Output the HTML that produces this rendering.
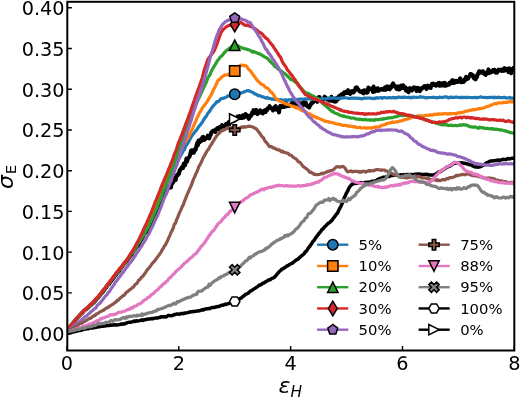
<!DOCTYPE html><html><head><meta charset="utf-8"><style>html,body{margin:0;padding:0;background:#fff;overflow:hidden}svg{display:block}</style></head><body>
<svg width="520" height="398" viewBox="0 0 520 398" font-family="'DejaVu Sans', 'Liberation Sans', sans-serif">
<rect width="520" height="398" fill="#fff"/>
<defs><clipPath id="ax"><rect x="67" y="2" width="447.5" height="348.5"/></clipPath></defs>
<g clip-path="url(#ax)" fill="none" stroke-linejoin="round" stroke-linecap="square">
<polyline points="67.0,331.2 67.6,330.1 68.3,329.1 69.0,328.1 69.7,327.2 70.3,326.3 71.0,325.5 71.7,324.6 72.3,323.9 73.0,323.1 73.7,322.3 74.4,321.5 75.0,320.6 75.7,319.8 76.4,319.0 77.0,318.2 77.7,317.6 78.4,316.9 79.0,316.2 79.7,315.3 80.4,314.8 81.1,314.0 81.7,313.2 82.4,312.9 83.1,311.9 83.7,311.1 84.4,310.6 85.1,309.8 85.8,309.6 86.4,309.0 87.1,308.2 87.8,307.9 88.4,307.0 89.1,306.7 89.8,305.7 90.5,305.4 91.1,304.7 91.8,304.4 92.5,303.7 93.1,302.8 93.8,302.4 94.5,301.6 95.2,301.0 95.8,300.2 96.5,299.2 97.2,298.3 97.8,297.9 98.5,297.2 99.2,296.1 99.9,295.2 100.5,294.7 101.2,293.7 101.9,292.9 102.5,292.1 103.2,291.4 103.9,290.5 104.5,289.4 105.2,288.8 105.9,287.7 106.6,287.0 107.2,285.9 107.9,284.9 108.6,284.4 109.2,283.9 109.9,282.6 110.6,281.8 111.3,280.8 111.9,279.9 112.6,279.1 113.3,278.1 113.9,277.5 114.6,276.2 115.3,275.4 116.0,274.8 116.6,274.0 117.3,272.9 118.0,272.2 118.6,271.5 119.3,270.5 120.0,269.2 120.7,268.6 121.3,267.8 122.0,266.8 122.7,265.7 123.3,264.9 124.0,264.0 124.7,263.4 125.4,262.6 126.0,261.9 126.7,260.9 127.4,260.1 128.0,259.0 128.7,258.1 129.4,257.3 130.0,256.2 130.7,255.3 131.4,255.0 132.1,253.6 132.7,252.0 133.4,250.9 134.1,250.0 134.7,249.4 135.4,248.6 136.1,246.9 136.8,246.7 137.4,245.3 138.1,245.7 138.8,244.0 139.4,243.4 140.1,241.6 140.8,240.5 141.5,239.3 142.1,238.2 142.8,237.1 143.5,234.3 144.1,234.0 144.8,233.1 145.5,232.1 146.2,231.0 146.8,231.8 147.5,229.3 148.2,227.5 148.8,227.1 149.5,225.3 150.2,223.8 150.8,223.1 151.5,221.9 152.2,220.7 152.9,219.4 153.5,216.8 154.2,215.0 154.9,213.5 155.5,211.8 156.2,211.0 156.9,208.7 157.6,206.2 158.2,206.5 158.9,203.7 159.6,201.8 160.2,202.8 160.9,200.7 161.6,200.7 162.3,198.1 162.9,196.8 163.6,196.1 164.3,196.0 164.9,195.1 165.6,193.7 166.3,192.4 167.0,190.0 167.6,189.2 168.3,186.1 169.0,186.9 169.6,187.9 170.3,187.0 171.0,187.4 171.7,182.1 172.3,183.5 173.0,182.6 173.7,181.2 174.3,178.4 175.0,179.1 175.7,179.9 176.3,175.4 177.0,175.8 177.7,175.4 178.4,173.3 179.0,173.9 179.7,170.1 180.4,170.1 181.0,168.5 181.7,167.6 182.4,166.7 183.1,167.9 183.7,163.5 184.4,164.0 185.1,165.2 185.7,162.6 186.4,158.6 187.1,161.5 187.8,158.7 188.4,157.9 189.1,157.1 189.8,156.1 190.4,153.3 191.1,150.4 191.8,150.3 192.5,152.9 193.1,152.3 193.8,152.6 194.5,151.2 195.1,148.8 195.8,149.5 196.5,145.5 197.2,142.9 197.8,145.5 198.5,140.5 199.2,142.1 199.8,142.2 200.5,140.9 201.2,139.0 201.8,140.7 202.5,137.2 203.2,136.9 203.9,138.6 204.5,139.8 205.2,138.8 205.9,138.8 206.5,137.8 207.2,137.1 207.9,135.5 208.6,136.8 209.2,138.4 209.9,135.7 210.6,135.4 211.2,132.6 211.9,132.0 212.6,131.1 213.3,130.6 213.9,130.9 214.6,131.1 215.3,132.0 215.9,129.2 216.6,129.7 217.3,128.1 218.0,127.8 218.6,129.4 219.3,127.5 220.0,126.9 220.6,127.5 221.3,126.7 222.0,125.0 222.7,126.8 223.3,126.1 224.0,126.3 224.7,126.1 225.3,125.5 226.0,123.9 226.7,123.7 227.3,124.3 228.0,124.7 228.7,122.0 229.4,124.4 230.0,121.4 230.7,121.7 231.4,118.8 232.0,121.2 232.7,119.1 233.4,120.8 234.1,119.9 234.7,120.7 235.4,120.0 236.1,119.0 236.7,118.0 237.4,116.6 238.1,117.8 238.8,116.4 239.4,116.0 240.1,117.5 240.8,117.9 241.4,117.8 242.1,117.9 242.8,115.2 243.5,116.9 244.1,117.5 244.8,115.8 245.5,114.1 246.1,115.0 246.8,114.9 247.5,117.0 248.2,116.9 248.8,118.9 249.5,117.4 250.2,115.6 250.8,116.2 251.5,114.9 252.2,112.4 252.8,112.9 253.5,110.1 254.2,113.2 254.9,112.8 255.5,110.9 256.2,109.9 256.9,112.5 257.5,114.1 258.2,112.8 258.9,112.9 259.6,111.4 260.2,110.3 260.9,112.7 261.6,112.3 262.2,112.4 262.9,113.5 263.6,111.0 264.3,110.4 264.9,111.5 265.6,112.0 266.3,109.5 266.9,110.5 267.6,108.3 268.3,108.2 269.0,107.3 269.6,106.0 270.3,107.8 271.0,108.4 271.6,108.3 272.3,108.6 273.0,110.5 273.7,107.8 274.3,107.2 275.0,107.2 275.7,106.2 276.3,109.7 277.0,109.2 277.7,108.7 278.3,109.8 279.0,112.4 279.7,107.1 280.4,105.8 281.0,106.7 281.7,107.2 282.4,107.1 283.0,105.8 283.7,105.9 284.4,106.9 285.1,104.8 285.7,102.9 286.4,106.4 287.1,105.1 287.7,104.6 288.4,104.8 289.1,106.0 289.8,105.2 290.4,104.4 291.1,105.2 291.8,103.3 292.4,104.3 293.1,101.0 293.8,102.7 294.5,103.2 295.1,104.4 295.8,101.6 296.5,101.9 297.1,103.5 297.8,101.9 298.5,103.8 299.1,105.6 299.8,105.2 300.5,104.7 301.2,103.3 301.8,106.2 302.5,105.1 303.2,103.7 303.8,102.0 304.5,104.3 305.2,104.9 305.9,102.7 306.5,105.7 307.2,106.4 307.9,105.7 308.5,106.7 309.2,107.7 309.9,105.3 310.6,105.2 311.2,103.3 311.9,103.5 312.6,102.6 313.2,102.4 313.9,100.0 314.6,98.3 315.3,100.9 315.9,98.0 316.6,99.5 317.3,101.9 317.9,99.3 318.6,97.2 319.3,97.0 320.0,99.6 320.6,98.4 321.3,99.1 322.0,100.4 322.6,100.1 323.3,99.8 324.0,98.8 324.6,96.6 325.3,97.3 326.0,98.2 326.7,98.6 327.3,99.6 328.0,99.7 328.7,100.1 329.3,100.7 330.0,99.2 330.7,100.1 331.4,96.8 332.0,100.9 332.7,100.0 333.4,101.0 334.0,101.3 334.7,101.6 335.4,99.7 336.1,101.3 336.7,97.9 337.4,98.9 338.1,99.3 338.7,96.3 339.4,98.3 340.1,95.3 340.8,96.9 341.4,94.4 342.1,96.1 342.8,96.1 343.4,93.4 344.1,92.3 344.8,92.6 345.5,93.1 346.1,91.8 346.8,91.7 347.5,92.9 348.1,90.1 348.8,92.7 349.5,91.9 350.1,94.0 350.8,92.4 351.5,91.3 352.2,92.3 352.8,91.0 353.5,92.5 354.2,90.6 354.8,90.8 355.5,87.9 356.2,89.3 356.9,87.3 357.5,89.3 358.2,89.3 358.9,90.2 359.5,91.3 360.2,91.7 360.9,92.0 361.6,91.6 362.2,91.2 362.9,92.9 363.6,93.4 364.2,90.2 364.9,91.9 365.6,90.6 366.3,92.2 366.9,92.8 367.6,92.4 368.3,87.6 368.9,89.8 369.6,88.5 370.3,89.1 371.0,88.5 371.6,88.4 372.3,90.1 373.0,92.0 373.6,86.6 374.3,90.9 375.0,91.4 375.6,91.0 376.3,89.7 377.0,88.5 377.7,88.2 378.3,90.9 379.0,90.7 379.7,89.9 380.3,89.2 381.0,89.4 381.7,88.8 382.4,89.4 383.0,89.7 383.7,88.6 384.4,89.7 385.0,87.2 385.7,89.8 386.4,89.5 387.1,86.4 387.7,87.8 388.4,86.5 389.1,89.0 389.7,89.4 390.4,86.9 391.1,87.7 391.8,85.4 392.4,84.8 393.1,83.3 393.8,85.1 394.4,85.8 395.1,87.0 395.8,86.3 396.5,88.9 397.1,89.1 397.8,87.6 398.5,86.4 399.1,89.6 399.8,89.3 400.5,88.4 401.1,85.5 401.8,87.4 402.5,87.9 403.2,85.3 403.8,86.6 404.5,88.3 405.2,87.2 405.8,90.5 406.5,88.4 407.2,91.0 407.9,91.5 408.5,92.2 409.2,90.5 409.9,88.1 410.5,89.3 411.2,88.6 411.9,90.5 412.6,88.4 413.2,88.1 413.9,87.3 414.6,87.6 415.2,88.9 415.9,87.8 416.6,91.1 417.3,88.4 417.9,87.8 418.6,89.1 419.3,90.9 419.9,91.2 420.6,88.4 421.3,89.2 422.0,88.6 422.6,87.8 423.3,87.4 424.0,86.4 424.6,86.0 425.3,87.5 426.0,86.0 426.6,89.1 427.3,87.1 428.0,85.7 428.7,86.7 429.3,86.7 430.0,87.0 430.7,88.0 431.3,85.3 432.0,83.8 432.7,85.0 433.4,83.7 434.0,84.7 434.7,85.3 435.4,85.1 436.0,85.8 436.7,84.0 437.4,84.5 438.1,83.1 438.7,82.9 439.4,85.7 440.1,85.7 440.7,83.2 441.4,83.5 442.1,85.4 442.8,85.5 443.4,83.1 444.1,84.0 444.8,82.8 445.4,85.9 446.1,84.5 446.8,85.3 447.4,84.5 448.1,84.6 448.8,84.8 449.5,82.7 450.1,82.9 450.8,82.2 451.5,83.1 452.1,80.3 452.8,80.2 453.5,82.8 454.2,83.0 454.8,81.6 455.5,80.8 456.2,81.9 456.8,80.8 457.5,82.1 458.2,81.6 458.9,81.8 459.5,80.0 460.2,78.3 460.9,81.4 461.5,82.2 462.2,81.1 462.9,81.0 463.6,81.9 464.2,79.9 464.9,80.6 465.6,77.9 466.2,76.9 466.9,79.2 467.6,77.5 468.3,78.4 468.9,76.8 469.6,76.2 470.3,74.0 470.9,73.9 471.6,74.4 472.3,75.7 472.9,75.1 473.6,77.9 474.3,78.6 475.0,76.6 475.6,79.4 476.3,77.2 477.0,77.0 477.6,73.9 478.3,73.9 479.0,71.2 479.7,73.0 480.3,71.5 481.0,72.2 481.7,72.7 482.3,71.4 483.0,71.2 483.7,73.0 484.4,73.9 485.0,72.6 485.7,75.0 486.4,73.2 487.0,72.5 487.7,72.6 488.4,69.4 489.1,73.2 489.7,72.3 490.4,71.0 491.1,72.3 491.7,71.4 492.4,71.8 493.1,70.2 493.8,70.8 494.4,69.8 495.1,71.3 495.8,72.7 496.4,71.9 497.1,72.6 497.8,70.5 498.4,69.7 499.1,70.7 499.8,70.5 500.5,70.4 501.1,69.5 501.8,70.9 502.5,69.6 503.1,69.6 503.8,70.8 504.5,68.1 505.2,69.5 505.8,70.4 506.5,68.7 507.2,69.1 507.8,69.2 508.5,72.1 509.2,68.2 509.9,69.8 510.5,70.2 511.2,73.3 511.9,70.7 512.5,69.2 513.2,68.0 513.9,69.3" stroke="#000000" stroke-width="4.0"/>
<polygon points="239.93,119.03 229.53,113.83 229.53,124.23" fill="#fff" stroke="#000" stroke-width="1.5" stroke-linejoin="miter"/>
<polyline points="67.0,333.6 68.1,333.3 69.2,333.0 70.3,332.7 71.4,332.4 72.6,332.1 73.7,331.8 74.8,331.7 75.9,331.2 77.0,330.9 78.2,330.7 79.3,330.5 80.4,330.4 81.5,330.2 82.6,329.6 83.7,329.4 84.9,329.2 86.0,328.8 87.1,328.8 88.2,328.7 89.3,328.4 90.5,327.9 91.6,327.7 92.7,328.0 93.8,327.4 94.9,327.5 96.0,327.3 97.2,327.0 98.3,326.7 99.4,326.7 100.5,326.4 101.6,326.3 102.8,326.3 103.9,325.9 105.0,325.9 106.1,325.8 107.2,325.5 108.4,325.5 109.5,325.4 110.6,325.0 111.7,325.2 112.8,325.1 113.9,325.0 115.1,324.6 116.2,325.1 117.3,324.9 118.4,324.8 119.5,324.6 120.7,324.1 121.8,324.2 122.9,323.8 124.0,324.2 125.1,323.4 126.2,323.3 127.4,322.6 128.5,322.4 129.6,322.2 130.7,322.2 131.8,321.9 133.0,321.6 134.1,321.0 135.2,321.4 136.3,320.7 137.4,321.1 138.5,320.9 139.7,320.6 140.8,320.4 141.9,319.8 143.0,320.4 144.1,319.8 145.3,319.8 146.4,319.2 147.5,319.2 148.6,318.9 149.7,318.9 150.8,318.8 152.0,318.6 153.1,318.7 154.2,318.3 155.3,318.1 156.4,317.9 157.6,318.1 158.7,317.4 159.8,317.6 160.9,316.8 162.0,316.8 163.2,316.9 164.3,316.6 165.4,317.0 166.5,316.8 167.6,315.7 168.7,315.6 169.9,315.6 171.0,315.8 172.1,315.5 173.2,315.2 174.3,314.6 175.5,314.5 176.6,314.0 177.7,314.0 178.8,314.2 179.9,314.1 181.0,313.5 182.2,313.6 183.3,313.7 184.4,313.2 185.5,312.9 186.6,312.9 187.8,312.6 188.9,312.3 190.0,312.0 191.1,311.8 192.2,311.7 193.3,311.4 194.5,311.5 195.6,311.3 196.7,311.1 197.8,311.1 198.9,310.8 200.1,310.5 201.2,310.1 202.3,309.8 203.4,310.0 204.5,309.2 205.7,309.0 206.8,308.7 207.9,308.7 209.0,308.5 210.1,308.4 211.2,307.9 212.4,307.4 213.5,307.5 214.6,307.4 215.7,307.0 216.8,306.7 218.0,306.5 219.1,306.4 220.2,305.9 221.3,305.3 222.4,305.2 223.5,305.0 224.7,304.3 225.8,304.5 226.9,303.9 228.0,303.8 229.1,303.4 230.3,303.0 231.4,303.0 232.5,302.2 233.6,301.8 234.7,301.5 235.8,301.1 237.0,300.3 238.1,299.5 239.2,299.1 240.3,298.4 241.4,297.9 242.6,296.7 243.7,296.0 244.8,295.1 245.9,294.2 247.0,293.8 248.2,293.2 249.3,292.0 250.4,291.3 251.5,290.4 252.6,290.1 253.7,289.0 254.9,288.5 256.0,287.5 257.1,287.0 258.2,286.1 259.3,285.1 260.5,284.9 261.6,284.4 262.7,283.2 263.8,283.0 264.9,282.3 266.0,281.5 267.2,281.0 268.3,280.0 269.4,279.9 270.5,279.5 271.6,278.4 272.8,278.1 273.9,277.7 275.0,276.6 276.1,275.4 277.2,274.0 278.3,272.7 279.5,271.4 280.6,270.5 281.7,269.2 282.8,269.0 283.9,267.9 285.1,267.5 286.2,266.5 287.3,265.8 288.4,265.3 289.5,264.5 290.6,264.0 291.8,263.4 292.9,262.7 294.0,261.8 295.1,260.8 296.2,260.0 297.4,259.4 298.5,258.7 299.6,257.5 300.7,256.7 301.8,255.6 303.0,254.8 304.1,253.8 305.2,251.9 306.3,251.3 307.4,249.6 308.5,247.7 309.7,246.5 310.8,244.8 311.9,243.2 313.0,241.3 314.1,240.4 315.3,238.4 316.4,236.7 317.5,235.6 318.6,234.0 319.7,232.7 320.8,231.4 322.0,229.4 323.1,228.9 324.2,227.3 325.3,226.2 326.4,225.2 327.6,223.8 328.7,223.1 329.8,222.3 330.9,221.2 332.0,220.3 333.1,218.6 334.3,217.2 335.4,215.6 336.5,214.2 337.6,213.0 338.7,210.3 339.9,208.2 341.0,206.0 342.1,203.6 343.2,200.7 344.3,197.5 345.5,195.3 346.6,192.8 347.7,191.0 348.8,188.3 349.9,186.5 351.0,185.4 352.2,183.9 353.3,183.9 354.4,183.6 355.5,183.3 356.6,183.2 357.8,183.0 358.9,182.9 360.0,182.7 361.1,182.6 362.2,183.2 363.3,182.7 364.5,182.6 365.6,182.5 366.7,182.2 367.8,182.3 368.9,182.1 370.1,182.3 371.2,181.7 372.3,181.2 373.4,181.2 374.5,181.1 375.6,181.0 376.8,180.2 377.9,179.3 379.0,179.0 380.1,178.4 381.2,178.2 382.4,177.7 383.5,177.2 384.6,177.3 385.7,177.0 386.8,176.6 388.0,176.4 389.1,176.5 390.2,175.9 391.3,175.6 392.4,175.6 393.5,175.0 394.7,175.3 395.8,175.0 396.9,174.9 398.0,175.1 399.1,175.3 400.3,174.8 401.4,175.1 402.5,175.0 403.6,174.6 404.7,175.0 405.8,174.7 407.0,174.5 408.1,174.6 409.2,174.6 410.3,174.8 411.4,174.5 412.6,174.9 413.7,174.6 414.8,174.3 415.9,174.3 417.0,174.4 418.1,174.0 419.3,173.9 420.4,174.2 421.5,174.5 422.6,174.5 423.7,174.5 424.9,174.5 426.0,174.2 427.1,174.7 428.2,174.5 429.3,175.1 430.5,174.9 431.6,175.0 432.7,175.1 433.8,174.9 434.9,174.5 436.0,174.0 437.2,173.1 438.3,172.2 439.4,171.8 440.5,171.5 441.6,170.8 442.8,169.9 443.9,169.4 445.0,168.5 446.1,168.0 447.2,167.1 448.3,166.6 449.5,166.3 450.6,165.4 451.7,164.9 452.8,163.9 453.9,163.5 455.1,163.2 456.2,163.1 457.3,162.7 458.4,162.9 459.5,162.6 460.6,163.1 461.8,163.1 462.9,162.8 464.0,163.3 465.1,163.3 466.2,163.8 467.4,163.8 468.5,164.3 469.6,164.8 470.7,164.6 471.8,165.2 472.9,166.1 474.1,166.4 475.2,167.0 476.3,167.1 477.4,166.9 478.5,167.2 479.7,166.8 480.8,166.5 481.9,165.9 483.0,165.4 484.1,164.3 485.3,163.7 486.4,162.7 487.5,162.9 488.6,161.8 489.7,161.4 490.8,161.0 492.0,160.9 493.1,160.8 494.2,160.8 495.3,160.6 496.4,160.5 497.6,160.1 498.7,160.1 499.8,160.3 500.9,159.9 502.0,159.8 503.1,159.2 504.3,159.6 505.4,159.4 506.5,159.4 507.6,158.5 508.7,158.9 509.9,158.7 511.0,158.6 512.1,158.3 513.2,158.3 514.3,158.3" stroke="#000000" stroke-width="3.5"/>
<polygon points="232.13,296.92 229.53,301.42 232.13,305.93 237.33,305.93 239.93,301.42 237.33,296.92" fill="#fff" stroke="#000" stroke-width="1.5" stroke-linejoin="miter"/>
<polyline points="67.0,331.2 68.1,329.4 69.2,327.8 70.3,326.3 71.4,324.9 72.6,323.5 73.7,322.0 74.8,321.0 75.9,319.3 77.0,318.2 78.2,316.8 79.3,315.7 80.4,314.4 81.5,313.4 82.6,312.1 83.7,310.9 84.9,310.2 86.0,309.4 87.1,308.1 88.2,307.0 89.3,305.7 90.5,304.9 91.6,304.0 92.7,302.6 93.8,301.8 94.9,300.4 96.0,299.3 97.2,297.8 98.3,296.5 99.4,295.4 100.5,294.1 101.6,292.6 102.8,290.9 103.9,289.5 105.0,288.2 106.1,286.3 107.2,285.5 108.4,283.8 109.5,282.3 110.6,280.6 111.7,279.5 112.8,277.8 113.9,276.9 115.1,275.1 116.2,273.2 117.3,272.3 118.4,270.6 119.5,269.2 120.7,267.9 121.8,266.5 122.9,265.2 124.0,263.9 125.1,262.3 126.2,260.5 127.4,258.8 128.5,257.4 129.6,256.1 130.7,254.6 131.8,253.2 133.0,250.8 134.1,249.4 135.2,247.6 136.3,245.7 137.4,244.1 138.5,242.1 139.7,240.2 140.8,238.2 141.9,236.5 143.0,234.7 144.1,232.8 145.3,230.2 146.4,227.9 147.5,225.9 148.6,223.5 149.7,221.7 150.8,218.8 152.0,216.6 153.1,213.7 154.2,211.4 155.3,208.9 156.4,206.6 157.6,203.4 158.7,200.9 159.8,197.7 160.9,195.2 162.0,192.7 163.2,190.2 164.3,187.9 165.4,185.4 166.5,182.4 167.6,180.5 168.7,177.8 169.9,176.3 171.0,173.7 172.1,171.5 173.2,169.3 174.3,167.2 175.5,165.1 176.6,162.9 177.7,161.2 178.8,159.0 179.9,157.1 181.0,154.8 182.2,153.0 183.3,150.6 184.4,149.7 185.5,146.6 186.6,144.8 187.8,143.2 188.9,141.4 190.0,139.1 191.1,137.2 192.2,135.5 193.3,134.0 194.5,132.5 195.6,131.1 196.7,129.8 197.8,128.3 198.9,126.4 200.1,125.2 201.2,123.7 202.3,122.3 203.4,120.3 204.5,118.4 205.7,117.0 206.8,115.4 207.9,113.1 209.0,112.1 210.1,110.5 211.2,108.6 212.4,106.8 213.5,105.7 214.6,104.4 215.7,103.4 216.8,101.7 218.0,101.8 219.1,100.9 220.2,99.4 221.3,98.6 222.4,98.4 223.5,98.1 224.7,97.9 225.8,97.3 226.9,96.7 228.0,95.8 229.1,96.0 230.3,95.8 231.4,95.1 232.5,94.9 233.6,94.6 234.7,94.2 235.8,93.7 237.0,93.9 238.1,93.2 239.2,93.7 240.3,92.9 241.4,93.0 242.6,92.3 243.7,92.1 244.8,91.5 245.9,91.3 247.0,90.7 248.2,90.5 249.3,91.0 250.4,91.5 251.5,91.7 252.6,92.5 253.7,92.9 254.9,93.9 256.0,94.2 257.1,94.7 258.2,95.8 259.3,95.6 260.5,96.1 261.6,96.6 262.7,96.8 263.8,97.1 264.9,97.8 266.0,98.1 267.2,97.4 268.3,98.3 269.4,98.4 270.5,98.5 271.6,99.2 272.8,98.9 273.9,99.4 275.0,99.2 276.1,99.4 277.2,99.8 278.3,99.6 279.5,99.8 280.6,99.7 281.7,99.8 282.8,100.3 283.9,100.3 285.1,99.8 286.2,99.8 287.3,100.7 288.4,99.9 289.5,99.8 290.6,100.0 291.8,99.6 292.9,99.6 294.0,99.9 295.1,99.8 296.2,99.4 297.4,99.7 298.5,99.3 299.6,99.2 300.7,99.2 301.8,99.1 303.0,99.2 304.1,99.1 305.2,98.9 306.3,99.1 307.4,98.9 308.5,98.8 309.7,98.9 310.8,99.2 311.9,99.0 313.0,99.2 314.1,99.3 315.3,98.9 316.4,98.7 317.5,98.6 318.6,98.9 319.7,99.0 320.8,99.1 322.0,98.4 323.1,98.9 324.2,98.9 325.3,99.2 326.4,98.6 327.6,98.5 328.7,98.1 329.8,98.2 330.9,98.1 332.0,98.1 333.1,98.1 334.3,97.9 335.4,98.2 336.5,98.3 337.6,98.3 338.7,98.1 339.9,98.4 341.0,98.3 342.1,97.7 343.2,98.0 344.3,97.7 345.5,97.8 346.6,98.0 347.7,98.0 348.8,98.4 349.9,98.5 351.0,98.2 352.2,98.0 353.3,98.1 354.4,98.2 355.5,98.3 356.6,98.0 357.8,98.4 358.9,98.2 360.0,98.6 361.1,98.7 362.2,98.8 363.3,98.4 364.5,98.1 365.6,98.0 366.7,98.3 367.8,98.0 368.9,98.0 370.1,98.3 371.2,98.1 372.3,98.5 373.4,98.7 374.5,98.2 375.6,98.3 376.8,97.7 377.9,98.1 379.0,97.9 380.1,97.7 381.2,97.5 382.4,98.3 383.5,97.5 384.6,97.5 385.7,97.8 386.8,97.8 388.0,97.8 389.1,97.7 390.2,97.5 391.3,97.9 392.4,97.7 393.5,97.3 394.7,98.0 395.8,97.5 396.9,97.8 398.0,97.2 399.1,97.2 400.3,97.4 401.4,97.3 402.5,97.7 403.6,97.0 404.7,97.5 405.8,97.2 407.0,97.5 408.1,97.4 409.2,97.2 410.3,97.9 411.4,97.4 412.6,97.6 413.7,97.0 414.8,97.3 415.9,97.4 417.0,97.4 418.1,97.3 419.3,97.2 420.4,96.6 421.5,97.2 422.6,97.1 423.7,97.3 424.9,97.6 426.0,97.9 427.1,97.5 428.2,97.6 429.3,97.5 430.5,97.5 431.6,97.5 432.7,97.3 433.8,97.3 434.9,97.4 436.0,97.8 437.2,97.6 438.3,97.8 439.4,97.0 440.5,97.4 441.6,97.5 442.8,97.5 443.9,97.0 445.0,96.9 446.1,96.8 447.2,97.3 448.3,97.9 449.5,97.4 450.6,97.1 451.7,97.4 452.8,97.3 453.9,97.4 455.1,97.3 456.2,97.0 457.3,97.2 458.4,97.5 459.5,97.4 460.6,97.7 461.8,97.1 462.9,97.6 464.0,97.4 465.1,97.4 466.2,97.7 467.4,97.3 468.5,97.4 469.6,97.5 470.7,97.5 471.8,97.6 472.9,97.7 474.1,97.5 475.2,97.3 476.3,98.0 477.4,97.4 478.5,97.5 479.7,97.2 480.8,96.8 481.9,97.2 483.0,97.4 484.1,97.5 485.3,97.4 486.4,97.6 487.5,97.6 488.6,97.6 489.7,97.4 490.8,97.4 492.0,97.4 493.1,97.2 494.2,97.8 495.3,97.2 496.4,97.5 497.6,97.6 498.7,97.0 499.8,97.7 500.9,97.5 502.0,97.7 503.1,97.6 504.3,97.3 505.4,97.8 506.5,97.8 507.6,98.0 508.7,97.9 509.9,97.4 511.0,98.2 512.1,98.1 513.2,98.2 514.3,98.1" stroke="#1f77b4" stroke-width="3.2"/>
<circle cx="234.73" cy="94.27" r="5.20" fill="#1f77b4" stroke="#000" stroke-width="1.5"/>
<polyline points="67.0,331.1 68.1,329.4 69.2,327.8 70.3,326.5 71.4,324.9 72.6,323.5 73.7,322.2 74.8,321.1 75.9,319.5 77.0,317.9 78.2,317.2 79.3,315.8 80.4,314.5 81.5,313.6 82.6,312.1 83.7,310.9 84.9,310.4 86.0,308.9 87.1,308.2 88.2,307.0 89.3,306.2 90.5,304.9 91.6,303.3 92.7,302.9 93.8,301.4 94.9,300.6 96.0,299.2 97.2,298.3 98.3,296.5 99.4,294.7 100.5,293.8 101.6,292.6 102.8,291.0 103.9,289.5 105.0,288.5 106.1,286.6 107.2,285.5 108.4,283.7 109.5,281.9 110.6,280.5 111.7,279.2 112.8,277.9 113.9,276.2 115.1,274.6 116.2,273.3 117.3,272.0 118.4,270.5 119.5,269.1 120.7,268.4 121.8,266.5 122.9,264.8 124.0,263.6 125.1,262.5 126.2,260.8 127.4,259.1 128.5,257.2 129.6,255.6 130.7,254.3 131.8,252.7 133.0,250.6 134.1,249.0 135.2,247.6 136.3,245.2 137.4,243.5 138.5,242.1 139.7,240.4 140.8,238.4 141.9,236.6 143.0,234.7 144.1,232.5 145.3,230.1 146.4,228.6 147.5,226.2 148.6,223.8 149.7,221.0 150.8,218.9 152.0,215.8 153.1,213.6 154.2,210.5 155.3,208.3 156.4,205.9 157.6,202.8 158.7,200.4 159.8,197.2 160.9,194.4 162.0,191.4 163.2,188.8 164.3,185.8 165.4,183.3 166.5,180.6 167.6,177.5 168.7,174.4 169.9,172.1 171.0,169.6 172.1,166.9 173.2,164.2 174.3,161.9 175.5,159.7 176.6,156.4 177.7,155.2 178.8,152.9 179.9,150.8 181.0,148.6 182.2,147.0 183.3,145.3 184.4,142.9 185.5,141.7 186.6,139.8 187.8,138.2 188.9,136.0 190.0,133.7 191.1,131.4 192.2,129.1 193.3,126.5 194.5,124.0 195.6,121.3 196.7,118.7 197.8,116.6 198.9,114.0 200.1,111.9 201.2,110.2 202.3,107.9 203.4,106.4 204.5,105.4 205.7,103.6 206.8,102.2 207.9,100.2 209.0,98.4 210.1,96.5 211.2,94.8 212.4,92.3 213.5,89.6 214.6,87.8 215.7,85.4 216.8,83.0 218.0,80.5 219.1,79.5 220.2,79.0 221.3,77.2 222.4,76.7 223.5,75.8 224.7,75.1 225.8,74.8 226.9,74.9 228.0,74.7 229.1,73.9 230.3,73.6 231.4,73.0 232.5,72.1 233.6,72.0 234.7,71.5 235.8,70.3 237.0,68.3 238.1,67.3 239.2,66.0 240.3,65.2 241.4,65.3 242.6,65.2 243.7,65.3 244.8,65.8 245.9,65.8 247.0,66.8 248.2,68.7 249.3,70.0 250.4,70.8 251.5,72.4 252.6,73.9 253.7,75.4 254.9,77.2 256.0,78.8 257.1,80.1 258.2,81.5 259.3,82.2 260.5,83.5 261.6,84.4 262.7,84.7 263.8,85.4 264.9,86.9 266.0,87.5 267.2,88.0 268.3,88.8 269.4,90.2 270.5,91.6 271.6,92.4 272.8,93.8 273.9,95.3 275.0,97.2 276.1,98.9 277.2,99.4 278.3,100.4 279.5,101.0 280.6,101.4 281.7,101.7 282.8,102.6 283.9,102.9 285.1,103.4 286.2,104.1 287.3,104.1 288.4,104.7 289.5,104.9 290.6,105.4 291.8,106.0 292.9,106.3 294.0,106.4 295.1,107.6 296.2,107.8 297.4,107.9 298.5,108.2 299.6,109.2 300.7,109.9 301.8,110.5 303.0,111.0 304.1,111.2 305.2,112.0 306.3,112.0 307.4,112.9 308.5,113.6 309.7,113.8 310.8,114.5 311.9,115.2 313.0,115.8 314.1,116.7 315.3,116.6 316.4,117.8 317.5,117.6 318.6,118.3 319.7,118.7 320.8,119.3 322.0,119.6 323.1,120.3 324.2,120.5 325.3,121.4 326.4,121.3 327.6,121.5 328.7,122.0 329.8,122.3 330.9,122.4 332.0,122.5 333.1,122.8 334.3,123.3 335.4,123.7 336.5,123.9 337.6,124.0 338.7,124.3 339.9,124.3 341.0,124.7 342.1,125.2 343.2,125.3 344.3,125.5 345.5,125.3 346.6,125.7 347.7,125.6 348.8,126.3 349.9,126.2 351.0,126.2 352.2,126.6 353.3,127.0 354.4,126.5 355.5,126.9 356.6,127.6 357.8,127.5 358.9,127.5 360.0,127.2 361.1,128.1 362.2,128.0 363.3,128.0 364.5,127.6 365.6,128.1 366.7,128.2 367.8,127.9 368.9,127.9 370.1,127.9 371.2,128.1 372.3,127.8 373.4,127.7 374.5,127.2 375.6,126.9 376.8,127.2 377.9,127.1 379.0,126.6 380.1,126.4 381.2,125.5 382.4,125.2 383.5,125.0 384.6,124.5 385.7,124.5 386.8,123.4 388.0,123.3 389.1,123.1 390.2,122.7 391.3,122.9 392.4,121.9 393.5,122.5 394.7,122.2 395.8,121.9 396.9,121.9 398.0,122.0 399.1,121.2 400.3,121.1 401.4,120.8 402.5,120.6 403.6,120.0 404.7,119.6 405.8,119.6 407.0,118.9 408.1,118.9 409.2,118.5 410.3,117.8 411.4,117.7 412.6,117.3 413.7,116.9 414.8,117.0 415.9,116.5 417.0,116.4 418.1,115.7 419.3,116.3 420.4,115.6 421.5,115.8 422.6,116.2 423.7,116.1 424.9,115.5 426.0,115.2 427.1,115.5 428.2,115.2 429.3,115.2 430.5,114.7 431.6,115.2 432.7,115.2 433.8,114.3 434.9,114.3 436.0,114.2 437.2,114.5 438.3,113.7 439.4,114.2 440.5,114.0 441.6,113.8 442.8,114.2 443.9,113.5 445.0,113.6 446.1,113.7 447.2,114.1 448.3,113.8 449.5,113.6 450.6,113.9 451.7,113.6 452.8,113.5 453.9,113.5 455.1,113.6 456.2,114.0 457.3,112.9 458.4,113.1 459.5,112.7 460.6,112.5 461.8,112.7 462.9,112.2 464.0,112.0 465.1,111.4 466.2,111.1 467.4,111.1 468.5,110.7 469.6,110.4 470.7,110.5 471.8,109.8 472.9,109.7 474.1,109.9 475.2,109.5 476.3,109.5 477.4,108.9 478.5,109.0 479.7,108.4 480.8,108.7 481.9,108.3 483.0,108.0 484.1,107.9 485.3,107.2 486.4,106.6 487.5,106.7 488.6,106.0 489.7,105.8 490.8,105.1 492.0,105.0 493.1,104.2 494.2,103.8 495.3,103.5 496.4,103.9 497.6,103.0 498.7,102.9 499.8,102.8 500.9,103.0 502.0,102.9 503.1,102.4 504.3,102.6 505.4,102.3 506.5,102.4 507.6,102.2 508.7,101.7 509.9,101.9 511.0,101.7 512.1,101.8 513.2,101.7 514.3,101.6" stroke="#ff7f0e" stroke-width="3.2"/>
<polygon points="229.53,76.25 239.93,76.25 239.93,65.85 229.53,65.85" fill="#ff7f0e" stroke="#000" stroke-width="1.5" stroke-linejoin="miter"/>
<polyline points="67.0,331.2 68.1,329.4 69.2,327.8 70.3,326.3 71.4,324.9 72.6,323.6 73.7,322.3 74.8,321.0 75.9,319.6 77.0,318.2 78.2,317.0 79.3,315.7 80.4,314.2 81.5,313.1 82.6,312.6 83.7,311.1 84.9,309.4 86.0,309.0 87.1,308.0 88.2,306.7 89.3,306.5 90.5,305.2 91.6,304.0 92.7,302.7 93.8,301.7 94.9,300.6 96.0,299.3 97.2,297.8 98.3,296.7 99.4,295.4 100.5,294.1 101.6,292.4 102.8,291.3 103.9,289.8 105.0,288.4 106.1,286.9 107.2,285.1 108.4,284.2 109.5,282.7 110.6,280.7 111.7,279.6 112.8,277.9 113.9,276.6 115.1,275.5 116.2,274.0 117.3,272.9 118.4,271.1 119.5,269.3 120.7,268.2 121.8,266.2 122.9,265.8 124.0,264.0 125.1,262.6 126.2,261.1 127.4,259.3 128.5,258.0 129.6,256.3 130.7,254.8 131.8,253.4 133.0,251.4 134.1,250.5 135.2,248.1 136.3,246.9 137.4,244.8 138.5,242.9 139.7,241.6 140.8,239.7 141.9,237.8 143.0,236.0 144.1,233.9 145.3,232.3 146.4,230.1 147.5,228.2 148.6,226.3 149.7,223.5 150.8,221.4 152.0,219.0 153.1,216.5 154.2,213.8 155.3,211.4 156.4,208.8 157.6,205.9 158.7,202.7 159.8,200.5 160.9,197.6 162.0,194.6 163.2,191.5 164.3,188.6 165.4,186.5 166.5,183.6 167.6,180.5 168.7,177.3 169.9,175.0 171.0,171.8 172.1,169.3 173.2,165.8 174.3,163.0 175.5,159.7 176.6,156.8 177.7,153.3 178.8,150.4 179.9,146.8 181.0,143.4 182.2,140.5 183.3,137.2 184.4,133.5 185.5,130.8 186.6,127.8 187.8,124.8 188.9,122.3 190.0,118.8 191.1,116.1 192.2,112.9 193.3,110.3 194.5,107.8 195.6,105.3 196.7,102.7 197.8,100.4 198.9,98.0 200.1,95.6 201.2,93.0 202.3,90.8 203.4,88.1 204.5,86.0 205.7,83.6 206.8,80.9 207.9,77.8 209.0,76.1 210.1,74.5 211.2,71.5 212.4,69.2 213.5,67.4 214.6,65.7 215.7,63.7 216.8,61.8 218.0,60.0 219.1,58.8 220.2,57.1 221.3,56.2 222.4,55.2 223.5,53.8 224.7,52.3 225.8,51.2 226.9,50.1 228.0,49.5 229.1,48.5 230.3,47.6 231.4,46.6 232.5,45.6 233.6,44.9 234.7,45.5 235.8,45.2 237.0,46.3 238.1,45.8 239.2,46.6 240.3,47.1 241.4,47.8 242.6,48.2 243.7,48.3 244.8,49.0 245.9,48.8 247.0,49.4 248.2,49.6 249.3,50.1 250.4,50.5 251.5,51.1 252.6,52.2 253.7,51.4 254.9,52.1 256.0,52.7 257.1,52.9 258.2,53.7 259.3,53.6 260.5,54.6 261.6,54.8 262.7,55.8 263.8,56.3 264.9,57.1 266.0,57.6 267.2,58.2 268.3,59.3 269.4,60.8 270.5,61.6 271.6,63.0 272.8,63.7 273.9,65.4 275.0,66.6 276.1,66.7 277.2,68.2 278.3,69.4 279.5,69.5 280.6,70.7 281.7,71.3 282.8,72.4 283.9,73.0 285.1,73.8 286.2,74.9 287.3,76.0 288.4,77.1 289.5,78.0 290.6,79.4 291.8,79.7 292.9,80.2 294.0,81.0 295.1,82.2 296.2,82.4 297.4,84.2 298.5,85.5 299.6,86.9 300.7,87.7 301.8,88.9 303.0,90.2 304.1,91.3 305.2,92.4 306.3,92.8 307.4,93.3 308.5,93.6 309.7,94.4 310.8,94.9 311.9,95.7 313.0,95.9 314.1,96.8 315.3,97.4 316.4,97.7 317.5,98.4 318.6,99.4 319.7,100.5 320.8,101.3 322.0,102.7 323.1,103.7 324.2,104.8 325.3,105.5 326.4,106.4 327.6,107.6 328.7,108.3 329.8,109.6 330.9,110.3 332.0,111.6 333.1,111.3 334.3,112.7 335.4,113.3 336.5,113.5 337.6,114.1 338.7,114.5 339.9,115.2 341.0,115.7 342.1,115.6 343.2,116.4 344.3,116.1 345.5,116.7 346.6,117.0 347.7,116.9 348.8,117.5 349.9,117.6 351.0,118.2 352.2,118.0 353.3,118.0 354.4,118.3 355.5,118.8 356.6,119.1 357.8,119.2 358.9,119.0 360.0,119.5 361.1,119.3 362.2,119.5 363.3,119.9 364.5,119.7 365.6,119.3 366.7,120.0 367.8,119.9 368.9,119.8 370.1,120.3 371.2,119.8 372.3,120.1 373.4,119.9 374.5,120.4 375.6,119.3 376.8,119.7 377.9,119.6 379.0,119.7 380.1,119.2 381.2,119.0 382.4,119.3 383.5,118.7 384.6,118.8 385.7,118.5 386.8,118.5 388.0,117.9 389.1,117.9 390.2,117.9 391.3,117.7 392.4,117.7 393.5,117.3 394.7,117.0 395.8,116.6 396.9,116.6 398.0,115.8 399.1,115.7 400.3,115.2 401.4,115.2 402.5,115.6 403.6,115.4 404.7,115.0 405.8,115.5 407.0,115.5 408.1,115.4 409.2,115.9 410.3,115.8 411.4,116.0 412.6,116.4 413.7,116.2 414.8,116.8 415.9,116.6 417.0,116.8 418.1,117.5 419.3,117.6 420.4,117.8 421.5,118.2 422.6,118.7 423.7,118.7 424.9,119.6 426.0,119.9 427.1,119.9 428.2,120.4 429.3,121.2 430.5,121.0 431.6,122.3 432.7,121.8 433.8,122.5 434.9,122.2 436.0,123.2 437.2,123.4 438.3,123.9 439.4,124.1 440.5,124.2 441.6,124.9 442.8,124.8 443.9,124.5 445.0,125.0 446.1,124.3 447.2,125.0 448.3,125.6 449.5,125.2 450.6,125.4 451.7,125.2 452.8,125.7 453.9,125.5 455.1,125.4 456.2,125.6 457.3,125.7 458.4,125.5 459.5,124.8 460.6,125.3 461.8,125.2 462.9,124.8 464.0,124.7 465.1,124.9 466.2,125.1 467.4,125.6 468.5,125.9 469.6,126.6 470.7,126.8 471.8,126.9 472.9,127.2 474.1,127.1 475.2,126.9 476.3,127.4 477.4,127.8 478.5,128.3 479.7,127.2 480.8,127.7 481.9,127.7 483.0,128.1 484.1,127.9 485.3,128.3 486.4,128.6 487.5,128.2 488.6,128.5 489.7,129.0 490.8,128.9 492.0,128.4 493.1,129.4 494.2,128.9 495.3,129.3 496.4,129.2 497.6,129.4 498.7,129.5 499.8,130.1 500.9,129.9 502.0,130.0 503.1,130.4 504.3,130.8 505.4,130.6 506.5,131.5 507.6,131.5 508.7,132.1 509.9,132.6 511.0,132.6 512.1,133.0 513.2,133.1 514.3,133.4" stroke="#2ca02c" stroke-width="3.2"/>
<polygon points="234.73,40.03 229.53,50.43 239.93,50.43" fill="#2ca02c" stroke="#000" stroke-width="1.5" stroke-linejoin="miter"/>
<polyline points="67.0,331.1 68.1,329.4 69.2,327.7 70.3,326.1 71.4,324.8 72.6,323.6 73.7,322.1 74.8,320.9 75.9,319.3 77.0,317.9 78.2,316.8 79.3,315.5 80.4,314.1 81.5,313.4 82.6,312.0 83.7,310.7 84.9,309.9 86.0,308.8 87.1,307.9 88.2,307.1 89.3,305.5 90.5,304.3 91.6,303.9 92.7,303.0 93.8,301.1 94.9,299.9 96.0,298.6 97.2,297.6 98.3,296.4 99.4,294.9 100.5,293.8 101.6,292.0 102.8,290.6 103.9,289.0 105.0,288.2 106.1,286.7 107.2,285.3 108.4,283.2 109.5,282.3 110.6,280.6 111.7,279.2 112.8,277.7 113.9,276.1 115.1,274.7 116.2,272.9 117.3,271.8 118.4,270.5 119.5,268.8 120.7,267.8 121.8,266.7 122.9,264.8 124.0,263.2 125.1,261.8 126.2,260.5 127.4,259.3 128.5,257.3 129.6,255.6 130.7,253.5 131.8,252.1 133.0,250.3 134.1,248.1 135.2,246.2 136.3,244.0 137.4,242.2 138.5,240.2 139.7,237.8 140.8,235.5 141.9,233.1 143.0,230.6 144.1,228.1 145.3,225.8 146.4,223.4 147.5,220.9 148.6,218.6 149.7,215.9 150.8,213.4 152.0,210.5 153.1,207.5 154.2,204.8 155.3,201.6 156.4,199.6 157.6,196.3 158.7,193.5 159.8,191.3 160.9,187.8 162.0,185.1 163.2,182.5 164.3,179.7 165.4,177.1 166.5,174.5 167.6,171.9 168.7,169.0 169.9,166.5 171.0,163.4 172.1,160.8 173.2,158.0 174.3,154.3 175.5,151.7 176.6,148.7 177.7,145.2 178.8,141.8 179.9,139.6 181.0,136.4 182.2,133.8 183.3,130.7 184.4,127.8 185.5,124.7 186.6,121.9 187.8,118.7 188.9,115.7 190.0,112.9 191.1,109.4 192.2,106.4 193.3,103.0 194.5,99.7 195.6,96.4 196.7,93.7 197.8,90.2 198.9,87.5 200.1,83.9 201.2,81.2 202.3,77.7 203.4,73.5 204.5,69.2 205.7,65.7 206.8,62.3 207.9,59.6 209.0,57.6 210.1,56.4 211.2,54.7 212.4,53.2 213.5,51.9 214.6,49.8 215.7,47.2 216.8,44.5 218.0,41.0 219.1,38.0 220.2,34.5 221.3,32.2 222.4,30.6 223.5,29.2 224.7,28.1 225.8,27.1 226.9,26.5 228.0,25.7 229.1,25.4 230.3,25.0 231.4,25.4 232.5,24.6 233.6,24.9 234.7,24.2 235.8,24.2 237.0,23.9 238.1,22.8 239.2,23.1 240.3,22.4 241.4,22.8 242.6,23.8 243.7,24.2 244.8,25.3 245.9,25.5 247.0,25.0 248.2,25.6 249.3,26.0 250.4,26.6 251.5,26.6 252.6,27.2 253.7,28.2 254.9,28.5 256.0,29.6 257.1,30.1 258.2,31.5 259.3,32.5 260.5,32.7 261.6,33.3 262.7,34.5 263.8,36.1 264.9,36.8 266.0,38.3 267.2,38.8 268.3,40.1 269.4,41.6 270.5,43.2 271.6,44.4 272.8,45.7 273.9,47.6 275.0,49.1 276.1,50.9 277.2,52.4 278.3,54.1 279.5,56.1 280.6,57.4 281.7,60.2 282.8,62.5 283.9,64.3 285.1,65.8 286.2,67.4 287.3,69.8 288.4,70.9 289.5,72.4 290.6,74.0 291.8,75.2 292.9,76.8 294.0,78.7 295.1,79.7 296.2,81.9 297.4,83.1 298.5,84.8 299.6,86.5 300.7,88.1 301.8,89.9 303.0,91.6 304.1,92.8 305.2,94.5 306.3,94.9 307.4,95.4 308.5,96.4 309.7,96.9 310.8,97.2 311.9,97.7 313.0,98.3 314.1,99.1 315.3,99.1 316.4,99.3 317.5,99.9 318.6,100.7 319.7,101.0 320.8,101.3 322.0,102.1 323.1,102.6 324.2,102.8 325.3,103.4 326.4,103.7 327.6,104.2 328.7,104.8 329.8,105.0 330.9,105.9 332.0,106.3 333.1,106.7 334.3,107.3 335.4,107.8 336.5,108.1 337.6,108.7 338.7,109.1 339.9,110.1 341.0,109.8 342.1,110.6 343.2,111.2 344.3,111.1 345.5,111.4 346.6,111.6 347.7,111.6 348.8,112.5 349.9,112.4 351.0,112.3 352.2,112.6 353.3,113.0 354.4,113.0 355.5,113.0 356.6,113.4 357.8,113.2 358.9,113.4 360.0,113.6 361.1,113.5 362.2,113.7 363.3,113.6 364.5,114.5 365.6,113.8 366.7,114.1 367.8,113.8 368.9,113.7 370.1,114.0 371.2,113.9 372.3,113.9 373.4,113.8 374.5,113.9 375.6,114.0 376.8,113.9 377.9,113.2 379.0,113.5 380.1,113.2 381.2,112.4 382.4,112.3 383.5,112.2 384.6,112.5 385.7,111.8 386.8,111.7 388.0,112.0 389.1,111.5 390.2,111.5 391.3,111.8 392.4,111.8 393.5,111.3 394.7,111.8 395.8,112.5 396.9,112.3 398.0,113.2 399.1,113.2 400.3,113.5 401.4,113.8 402.5,113.6 403.6,114.1 404.7,114.2 405.8,114.8 407.0,115.3 408.1,115.1 409.2,115.4 410.3,115.2 411.4,115.8 412.6,116.1 413.7,116.4 414.8,116.9 415.9,117.3 417.0,117.3 418.1,117.7 419.3,117.5 420.4,118.4 421.5,118.6 422.6,118.4 423.7,119.3 424.9,119.4 426.0,120.1 427.1,120.3 428.2,120.6 429.3,121.4 430.5,121.4 431.6,121.8 432.7,122.2 433.8,122.5 434.9,122.4 436.0,122.7 437.2,122.6 438.3,122.2 439.4,121.8 440.5,122.3 441.6,122.2 442.8,121.9 443.9,121.7 445.0,121.7 446.1,121.0 447.2,121.0 448.3,120.2 449.5,119.5 450.6,119.3 451.7,118.8 452.8,118.6 453.9,118.5 455.1,117.9 456.2,117.8 457.3,117.9 458.4,117.8 459.5,117.4 460.6,117.2 461.8,118.0 462.9,117.2 464.0,117.0 465.1,117.0 466.2,117.8 467.4,117.2 468.5,117.6 469.6,117.7 470.7,118.1 471.8,117.5 472.9,117.9 474.1,118.1 475.2,118.6 476.3,118.3 477.4,118.6 478.5,118.6 479.7,119.1 480.8,119.2 481.9,119.0 483.0,119.3 484.1,118.8 485.3,119.3 486.4,119.1 487.5,119.3 488.6,119.7 489.7,120.0 490.8,119.6 492.0,119.5 493.1,119.6 494.2,119.9 495.3,119.8 496.4,120.1 497.6,120.4 498.7,120.3 499.8,120.1 500.9,120.5 502.0,120.3 503.1,120.2 504.3,121.0 505.4,121.4 506.5,121.4 507.6,121.1 508.7,120.6 509.9,121.4 511.0,121.9 512.1,121.9 513.2,122.5 514.3,122.2" stroke="#d62728" stroke-width="3.2"/>
<polygon points="234.73,31.81 239.14,24.46 234.73,17.11 230.32,24.46" fill="#d62728" stroke="#000" stroke-width="1.5" stroke-linejoin="miter"/>
<polyline points="67.0,331.2 68.1,330.3 69.2,329.4 70.3,328.5 71.4,327.8 72.6,327.0 73.7,326.1 74.8,325.1 75.9,324.3 77.0,323.4 78.2,322.7 79.3,321.9 80.4,320.9 81.5,320.0 82.6,319.0 83.7,318.1 84.9,316.7 86.0,316.2 87.1,315.5 88.2,314.2 89.3,313.5 90.5,312.0 91.6,311.4 92.7,310.4 93.8,309.5 94.9,308.4 96.0,307.8 97.2,305.3 98.3,304.6 99.4,303.6 100.5,302.5 101.6,301.0 102.8,299.7 103.9,298.1 105.0,296.7 106.1,295.3 107.2,294.4 108.4,292.3 109.5,291.6 110.6,289.6 111.7,287.7 112.8,286.4 113.9,284.9 115.1,282.7 116.2,281.1 117.3,280.3 118.4,278.2 119.5,277.1 120.7,275.5 121.8,273.5 122.9,272.5 124.0,271.0 125.1,269.7 126.2,267.9 127.4,266.5 128.5,265.0 129.6,263.3 130.7,262.3 131.8,260.6 133.0,259.2 134.1,257.3 135.2,255.9 136.3,253.8 137.4,252.2 138.5,251.0 139.7,249.0 140.8,247.2 141.9,245.6 143.0,243.4 144.1,242.0 145.3,240.2 146.4,238.0 147.5,235.8 148.6,234.5 149.7,232.1 150.8,229.6 152.0,227.5 153.1,225.0 154.2,222.6 155.3,220.1 156.4,217.8 157.6,215.5 158.7,212.8 159.8,209.8 160.9,207.3 162.0,204.3 163.2,201.0 164.3,198.2 165.4,195.6 166.5,192.8 167.6,189.9 168.7,186.4 169.9,183.3 171.0,181.3 172.1,177.7 173.2,175.0 174.3,171.7 175.5,168.2 176.6,165.7 177.7,162.2 178.8,159.1 179.9,155.5 181.0,151.6 182.2,148.4 183.3,145.1 184.4,141.1 185.5,137.8 186.6,134.5 187.8,130.4 188.9,127.0 190.0,123.7 191.1,120.4 192.2,116.6 193.3,113.0 194.5,109.8 195.6,106.0 196.7,102.8 197.8,99.3 198.9,95.8 200.1,92.6 201.2,89.3 202.3,85.2 203.4,82.1 204.5,78.2 205.7,74.2 206.8,70.3 207.9,66.6 209.0,62.2 210.1,58.2 211.2,54.1 212.4,50.5 213.5,46.9 214.6,42.8 215.7,39.2 216.8,35.9 218.0,33.0 219.1,30.0 220.2,28.4 221.3,26.3 222.4,24.7 223.5,23.4 224.7,22.4 225.8,21.4 226.9,20.9 228.0,20.3 229.1,19.8 230.3,19.7 231.4,19.4 232.5,18.6 233.6,18.4 234.7,17.9 235.8,17.6 237.0,18.1 238.1,18.3 239.2,18.8 240.3,19.2 241.4,18.9 242.6,19.4 243.7,19.8 244.8,20.0 245.9,20.7 247.0,21.2 248.2,22.2 249.3,22.3 250.4,22.8 251.5,24.7 252.6,26.5 253.7,28.3 254.9,29.6 256.0,31.6 257.1,33.0 258.2,35.1 259.3,36.6 260.5,38.4 261.6,41.1 262.7,42.8 263.8,45.0 264.9,47.6 266.0,49.3 267.2,50.4 268.3,52.9 269.4,53.8 270.5,55.5 271.6,57.1 272.8,59.2 273.9,60.3 275.0,62.2 276.1,63.7 277.2,65.8 278.3,67.3 279.5,69.7 280.6,71.7 281.7,73.8 282.8,76.4 283.9,79.0 285.1,81.3 286.2,83.6 287.3,86.2 288.4,88.0 289.5,90.5 290.6,92.6 291.8,94.4 292.9,96.3 294.0,98.1 295.1,99.4 296.2,100.9 297.4,102.4 298.5,103.1 299.6,105.2 300.7,106.3 301.8,107.7 303.0,108.9 304.1,110.4 305.2,111.8 306.3,113.5 307.4,114.9 308.5,116.4 309.7,117.4 310.8,118.1 311.9,119.5 313.0,120.8 314.1,121.9 315.3,122.4 316.4,123.7 317.5,124.6 318.6,125.3 319.7,126.3 320.8,127.7 322.0,127.9 323.1,129.2 324.2,129.6 325.3,130.1 326.4,131.2 327.6,131.7 328.7,132.4 329.8,132.5 330.9,133.7 332.0,133.9 333.1,134.6 334.3,134.7 335.4,134.9 336.5,135.1 337.6,135.6 338.7,135.8 339.9,135.9 341.0,136.8 342.1,136.4 343.2,136.8 344.3,137.1 345.5,136.8 346.6,136.9 347.7,136.8 348.8,137.0 349.9,136.9 351.0,136.8 352.2,136.7 353.3,136.6 354.4,136.6 355.5,136.6 356.6,136.8 357.8,137.0 358.9,136.4 360.0,136.3 361.1,135.9 362.2,135.8 363.3,135.8 364.5,135.1 365.6,134.9 366.7,133.9 367.8,133.9 368.9,133.6 370.1,132.8 371.2,132.0 372.3,132.1 373.4,131.5 374.5,131.6 375.6,130.6 376.8,130.5 377.9,130.4 379.0,130.4 380.1,129.9 381.2,130.6 382.4,130.3 383.5,130.1 384.6,130.0 385.7,130.2 386.8,130.1 388.0,129.9 389.1,129.9 390.2,130.0 391.3,129.9 392.4,130.0 393.5,130.0 394.7,130.2 395.8,130.1 396.9,130.4 398.0,131.0 399.1,131.3 400.3,131.4 401.4,130.8 402.5,131.6 403.6,132.5 404.7,133.3 405.8,133.8 407.0,134.2 408.1,134.9 409.2,135.7 410.3,137.3 411.4,138.0 412.6,138.9 413.7,140.4 414.8,141.3 415.9,141.5 417.0,142.6 418.1,143.8 419.3,144.5 420.4,144.7 421.5,145.7 422.6,146.5 423.7,147.0 424.9,147.3 426.0,148.0 427.1,148.7 428.2,149.1 429.3,149.2 430.5,150.4 431.6,150.3 432.7,150.2 433.8,150.9 434.9,150.6 436.0,151.4 437.2,151.9 438.3,152.8 439.4,152.5 440.5,152.8 441.6,153.1 442.8,153.1 443.9,153.1 445.0,153.7 446.1,153.7 447.2,154.1 448.3,154.1 449.5,153.8 450.6,154.1 451.7,154.3 452.8,154.6 453.9,155.0 455.1,155.2 456.2,155.4 457.3,156.3 458.4,156.7 459.5,156.7 460.6,156.9 461.8,157.4 462.9,157.8 464.0,158.2 465.1,158.6 466.2,159.3 467.4,159.8 468.5,160.3 469.6,160.6 470.7,161.4 471.8,162.3 472.9,162.4 474.1,162.7 475.2,163.9 476.3,163.7 477.4,163.7 478.5,164.3 479.7,164.1 480.8,164.3 481.9,164.8 483.0,164.6 484.1,164.5 485.3,165.1 486.4,165.3 487.5,164.8 488.6,165.1 489.7,165.5 490.8,165.3 492.0,165.4 493.1,165.1 494.2,164.8 495.3,164.7 496.4,164.5 497.6,164.5 498.7,163.6 499.8,163.7 500.9,164.0 502.0,164.1 503.1,163.8 504.3,163.9 505.4,163.7 506.5,163.6 507.6,164.0 508.7,163.9 509.9,163.8 511.0,163.6 512.1,164.0 513.2,163.9 514.3,163.9" stroke="#9467bd" stroke-width="3.2"/>
<polygon points="234.73,12.82 229.78,16.41 231.67,22.24 237.79,22.24 239.68,16.41" fill="#9467bd" stroke="#000" stroke-width="1.5" stroke-linejoin="miter"/>
<polyline points="67.0,331.2 68.1,330.4 69.2,329.9 70.3,329.3 71.4,328.8 72.6,328.2 73.7,327.4 74.8,326.6 75.9,326.3 77.0,325.5 78.2,325.3 79.3,324.0 80.4,323.6 81.5,323.5 82.6,322.4 83.7,322.0 84.9,321.4 86.0,320.3 87.1,320.1 88.2,318.9 89.3,318.4 90.5,318.6 91.6,317.2 92.7,316.7 93.8,315.5 94.9,315.7 96.0,314.3 97.2,313.7 98.3,313.1 99.4,312.3 100.5,311.5 101.6,311.2 102.8,310.5 103.9,310.0 105.0,309.0 106.1,308.3 107.2,307.8 108.4,307.2 109.5,306.2 110.6,305.7 111.7,304.8 112.8,304.4 113.9,303.4 115.1,302.5 116.2,301.8 117.3,300.3 118.4,300.1 119.5,298.7 120.7,297.6 121.8,296.9 122.9,295.5 124.0,295.5 125.1,294.0 126.2,292.5 127.4,291.7 128.5,290.9 129.6,289.9 130.7,289.2 131.8,288.3 133.0,287.3 134.1,286.1 135.2,284.4 136.3,283.9 137.4,282.7 138.5,280.4 139.7,279.6 140.8,278.3 141.9,276.8 143.0,276.1 144.1,274.5 145.3,273.0 146.4,271.2 147.5,269.5 148.6,268.4 149.7,267.1 150.8,265.6 152.0,263.8 153.1,262.5 154.2,261.4 155.3,260.2 156.4,258.4 157.6,256.9 158.7,255.4 159.8,253.8 160.9,252.5 162.0,250.1 163.2,248.6 164.3,246.2 165.4,245.0 166.5,242.7 167.6,240.6 168.7,237.9 169.9,235.4 171.0,232.5 172.1,230.5 173.2,228.3 174.3,224.2 175.5,223.2 176.6,219.6 177.7,217.4 178.8,214.4 179.9,211.9 181.0,209.6 182.2,206.6 183.3,204.7 184.4,201.4 185.5,198.9 186.6,195.8 187.8,193.2 188.9,190.6 190.0,188.2 191.1,185.9 192.2,182.7 193.3,179.6 194.5,177.1 195.6,174.3 196.7,172.3 197.8,169.5 198.9,166.6 200.1,164.4 201.2,162.4 202.3,159.9 203.4,157.3 204.5,155.7 205.7,153.5 206.8,151.4 207.9,149.9 209.0,148.7 210.1,146.0 211.2,144.8 212.4,142.5 213.5,140.9 214.6,139.0 215.7,137.4 216.8,135.7 218.0,134.3 219.1,133.3 220.2,132.2 221.3,130.8 222.4,130.7 223.5,130.3 224.7,129.6 225.8,129.0 226.9,128.0 228.0,128.5 229.1,128.3 230.3,128.4 231.4,127.7 232.5,128.6 233.6,129.4 234.7,129.9 235.8,129.1 237.0,129.0 238.1,128.4 239.2,128.0 240.3,128.2 241.4,127.1 242.6,126.9 243.7,127.3 244.8,126.6 245.9,127.1 247.0,126.7 248.2,126.3 249.3,126.2 250.4,126.5 251.5,126.6 252.6,127.1 253.7,127.3 254.9,128.3 256.0,128.6 257.1,129.8 258.2,131.3 259.3,132.5 260.5,134.4 261.6,136.1 262.7,137.1 263.8,138.4 264.9,141.0 266.0,142.1 267.2,143.6 268.3,144.8 269.4,146.6 270.5,146.6 271.6,146.7 272.8,147.9 273.9,147.8 275.0,148.7 276.1,148.8 277.2,149.7 278.3,149.8 279.5,149.9 280.6,151.0 281.7,151.9 282.8,151.2 283.9,152.3 285.1,152.5 286.2,153.0 287.3,153.0 288.4,153.6 289.5,155.0 290.6,155.2 291.8,155.6 292.9,157.1 294.0,157.7 295.1,158.5 296.2,158.9 297.4,160.4 298.5,162.0 299.6,162.0 300.7,163.3 301.8,164.7 303.0,166.4 304.1,167.1 305.2,168.0 306.3,168.7 307.4,169.5 308.5,170.7 309.7,172.3 310.8,172.0 311.9,173.1 313.0,173.1 314.1,174.4 315.3,174.3 316.4,174.7 317.5,174.7 318.6,174.5 319.7,174.4 320.8,173.8 322.0,173.2 323.1,173.8 324.2,172.9 325.3,172.7 326.4,172.3 327.6,171.3 328.7,171.5 329.8,170.9 330.9,170.6 332.0,170.4 333.1,169.9 334.3,168.9 335.4,167.8 336.5,166.7 337.6,166.5 338.7,166.9 339.9,167.2 341.0,166.8 342.1,166.4 343.2,166.6 344.3,167.1 345.5,168.7 346.6,170.8 347.7,171.8 348.8,171.6 349.9,171.4 351.0,170.9 352.2,171.8 353.3,171.7 354.4,171.2 355.5,171.5 356.6,171.4 357.8,171.3 358.9,172.1 360.0,171.4 361.1,172.3 362.2,171.4 363.3,171.2 364.5,171.4 365.6,172.2 366.7,171.2 367.8,171.4 368.9,170.4 370.1,171.3 371.2,170.5 372.3,170.7 373.4,170.9 374.5,170.1 375.6,170.1 376.8,169.6 377.9,169.5 379.0,169.8 380.1,170.1 381.2,169.9 382.4,170.1 383.5,170.0 384.6,170.0 385.7,170.9 386.8,171.1 388.0,171.6 389.1,172.3 390.2,172.8 391.3,172.8 392.4,173.9 393.5,174.5 394.7,174.9 395.8,174.5 396.9,175.4 398.0,176.0 399.1,176.6 400.3,176.5 401.4,176.4 402.5,177.6 403.6,177.3 404.7,177.3 405.8,177.8 407.0,177.9 408.1,177.6 409.2,177.3 410.3,177.1 411.4,177.3 412.6,176.7 413.7,176.7 414.8,175.8 415.9,176.3 417.0,176.4 418.1,176.6 419.3,176.3 420.4,177.0 421.5,178.0 422.6,177.8 423.7,177.8 424.9,178.0 426.0,178.1 427.1,178.8 428.2,178.6 429.3,178.9 430.5,179.6 431.6,179.8 432.7,179.8 433.8,179.2 434.9,179.7 436.0,180.5 437.2,179.7 438.3,180.7 439.4,180.3 440.5,180.6 441.6,180.1 442.8,179.6 443.9,179.5 445.0,180.0 446.1,179.1 447.2,178.4 448.3,178.8 449.5,177.6 450.6,177.7 451.7,177.6 452.8,177.3 453.9,177.0 455.1,176.5 456.2,175.3 457.3,175.8 458.4,175.4 459.5,175.0 460.6,174.9 461.8,174.7 462.9,174.3 464.0,174.6 465.1,174.8 466.2,174.1 467.4,174.0 468.5,173.8 469.6,174.7 470.7,174.1 471.8,175.5 472.9,175.6 474.1,175.3 475.2,176.0 476.3,175.7 477.4,175.9 478.5,176.8 479.7,176.4 480.8,177.0 481.9,177.1 483.0,177.9 484.1,177.7 485.3,178.3 486.4,178.3 487.5,178.0 488.6,178.0 489.7,177.9 490.8,178.9 492.0,178.2 493.1,179.1 494.2,178.8 495.3,179.7 496.4,180.4 497.6,180.1 498.7,180.5 499.8,180.8 500.9,181.2 502.0,180.8 503.1,181.6 504.3,181.7 505.4,181.5 506.5,181.7 507.6,182.6 508.7,182.5 509.9,182.6 511.0,182.2 512.1,182.5 513.2,182.3 514.3,182.2" stroke="#8c564b" stroke-width="3.2"/>
<polygon points="232.99,135.15 236.47,135.15 236.47,131.69 239.93,131.69 239.93,128.21 236.47,128.21 236.47,124.75 232.99,124.75 232.99,128.21 229.53,128.21 229.53,131.69 232.99,131.69" fill="#8c564b" stroke="#000" stroke-width="1.5" stroke-linejoin="miter"/>
<polyline points="67.0,331.9 68.1,331.6 69.2,331.2 70.3,330.8 71.4,330.6 72.6,330.2 73.7,329.7 74.8,329.8 75.9,328.9 77.0,328.8 78.2,328.2 79.3,328.2 80.4,327.7 81.5,327.5 82.6,326.8 83.7,326.2 84.9,326.4 86.0,325.6 87.1,325.1 88.2,324.6 89.3,324.0 90.5,323.9 91.6,323.8 92.7,323.2 93.8,322.4 94.9,322.0 96.0,321.5 97.2,320.5 98.3,320.7 99.4,319.8 100.5,318.6 101.6,318.9 102.8,317.9 103.9,317.8 105.0,317.5 106.1,316.7 107.2,316.5 108.4,316.4 109.5,315.2 110.6,314.6 111.7,314.8 112.8,314.4 113.9,314.8 115.1,314.2 116.2,313.7 117.3,313.2 118.4,312.4 119.5,312.2 120.7,312.2 121.8,312.0 122.9,311.5 124.0,311.3 125.1,311.0 126.2,310.2 127.4,309.8 128.5,309.2 129.6,309.4 130.7,307.9 131.8,308.2 133.0,307.7 134.1,306.3 135.2,306.2 136.3,306.0 137.4,304.8 138.5,304.2 139.7,303.7 140.8,303.4 141.9,302.4 143.0,301.3 144.1,300.3 145.3,299.5 146.4,299.2 147.5,297.6 148.6,297.2 149.7,296.7 150.8,295.2 152.0,294.5 153.1,293.6 154.2,292.9 155.3,291.3 156.4,290.7 157.6,289.7 158.7,288.7 159.8,287.1 160.9,286.7 162.0,285.2 163.2,284.4 164.3,283.1 165.4,282.8 166.5,281.1 167.6,280.6 168.7,278.7 169.9,277.7 171.0,277.1 172.1,275.4 173.2,274.5 174.3,273.6 175.5,272.0 176.6,270.9 177.7,269.9 178.8,269.2 179.9,268.0 181.0,267.2 182.2,265.7 183.3,264.6 184.4,263.4 185.5,262.7 186.6,261.6 187.8,260.8 188.9,259.5 190.0,258.6 191.1,257.7 192.2,257.0 193.3,255.6 194.5,254.4 195.6,253.8 196.7,252.8 197.8,251.1 198.9,249.8 200.1,247.9 201.2,246.5 202.3,245.4 203.4,244.3 204.5,242.8 205.7,241.0 206.8,239.1 207.9,237.9 209.0,235.7 210.1,234.6 211.2,232.7 212.4,231.5 213.5,230.5 214.6,229.2 215.7,227.2 216.8,225.9 218.0,223.9 219.1,222.9 220.2,222.3 221.3,220.9 222.4,219.6 223.5,218.3 224.7,217.4 225.8,215.7 226.9,214.6 228.0,214.4 229.1,212.2 230.3,211.5 231.4,210.2 232.5,209.8 233.6,208.3 234.7,207.4 235.8,206.4 237.0,205.7 238.1,204.2 239.2,203.1 240.3,202.5 241.4,201.5 242.6,201.0 243.7,199.9 244.8,199.0 245.9,198.4 247.0,197.7 248.2,197.1 249.3,196.1 250.4,194.8 251.5,194.7 252.6,194.1 253.7,193.4 254.9,193.0 256.0,192.3 257.1,192.2 258.2,191.2 259.3,191.2 260.5,190.0 261.6,189.2 262.7,189.2 263.8,189.9 264.9,188.6 266.0,188.3 267.2,188.1 268.3,187.6 269.4,187.5 270.5,187.1 271.6,187.4 272.8,186.8 273.9,186.3 275.0,186.2 276.1,185.9 277.2,185.3 278.3,185.8 279.5,185.2 280.6,185.6 281.7,185.5 282.8,185.8 283.9,186.0 285.1,185.8 286.2,185.6 287.3,185.8 288.4,186.1 289.5,185.9 290.6,186.0 291.8,186.1 292.9,186.0 294.0,186.3 295.1,186.0 296.2,186.1 297.4,185.8 298.5,185.4 299.6,186.1 300.7,186.1 301.8,185.6 303.0,185.9 304.1,185.6 305.2,185.1 306.3,185.6 307.4,184.5 308.5,184.8 309.7,184.8 310.8,183.9 311.9,184.4 313.0,183.3 314.1,183.5 315.3,182.6 316.4,182.5 317.5,181.8 318.6,182.1 319.7,180.9 320.8,180.4 322.0,179.6 323.1,178.6 324.2,177.8 325.3,177.3 326.4,176.9 327.6,176.4 328.7,175.9 329.8,175.2 330.9,175.1 332.0,174.2 333.1,174.2 334.3,173.4 335.4,173.7 336.5,174.0 337.6,173.8 338.7,174.2 339.9,175.2 341.0,175.5 342.1,176.1 343.2,176.6 344.3,176.9 345.5,177.4 346.6,177.7 347.7,178.5 348.8,178.2 349.9,179.2 351.0,180.1 352.2,180.7 353.3,181.0 354.4,181.4 355.5,182.2 356.6,182.3 357.8,182.4 358.9,183.4 360.0,183.2 361.1,183.6 362.2,183.3 363.3,183.2 364.5,184.4 365.6,184.9 366.7,183.9 367.8,184.6 368.9,185.2 370.1,185.2 371.2,185.4 372.3,185.6 373.4,185.6 374.5,186.4 375.6,186.6 376.8,186.7 377.9,186.1 379.0,187.4 380.1,187.0 381.2,187.3 382.4,187.8 383.5,187.6 384.6,187.1 385.7,187.4 386.8,187.1 388.0,186.5 389.1,186.5 390.2,185.7 391.3,185.5 392.4,185.8 393.5,185.9 394.7,185.0 395.8,185.4 396.9,184.9 398.0,185.2 399.1,184.3 400.3,185.1 401.4,184.1 402.5,183.7 403.6,183.6 404.7,182.7 405.8,183.2 407.0,182.7 408.1,182.8 409.2,182.3 410.3,181.4 411.4,181.2 412.6,181.5 413.7,181.2 414.8,181.8 415.9,181.2 417.0,181.7 418.1,181.7 419.3,182.3 420.4,182.0 421.5,182.3 422.6,182.1 423.7,182.6 424.9,182.9 426.0,182.7 427.1,183.0 428.2,182.4 429.3,182.3 430.5,181.8 431.6,180.7 432.7,180.0 433.8,178.6 434.9,176.8 436.0,175.4 437.2,174.4 438.3,172.9 439.4,172.0 440.5,170.9 441.6,170.7 442.8,169.7 443.9,169.0 445.0,168.5 446.1,166.8 447.2,166.9 448.3,166.2 449.5,165.8 450.6,165.2 451.7,164.5 452.8,164.0 453.9,162.4 455.1,162.2 456.2,162.6 457.3,162.8 458.4,162.7 459.5,164.3 460.6,165.5 461.8,166.2 462.9,167.8 464.0,169.3 465.1,170.1 466.2,171.2 467.4,171.4 468.5,172.0 469.6,172.0 470.7,172.3 471.8,172.8 472.9,173.8 474.1,174.4 475.2,173.9 476.3,174.5 477.4,174.3 478.5,175.8 479.7,175.6 480.8,176.7 481.9,177.3 483.0,177.0 484.1,177.7 485.3,178.7 486.4,179.3 487.5,179.2 488.6,179.4 489.7,180.2 490.8,180.8 492.0,180.4 493.1,180.8 494.2,181.6 495.3,181.6 496.4,181.6 497.6,182.1 498.7,182.4 499.8,182.8 500.9,182.7 502.0,182.7 503.1,182.3 504.3,183.1 505.4,183.1 506.5,183.1 507.6,183.1 508.7,183.2 509.9,183.5 511.0,183.1 512.1,182.9 513.2,183.6 514.3,183.2" stroke="#e377c2" stroke-width="3.2"/>
<polygon points="234.73,212.70 239.93,202.30 229.53,202.30" fill="#e377c2" stroke="#000" stroke-width="1.5" stroke-linejoin="miter"/>
<polyline points="67.0,331.9 68.1,331.7 69.2,331.4 70.3,331.1 71.4,330.8 72.6,330.8 73.7,330.1 74.8,330.4 75.9,329.6 77.0,329.4 78.2,329.2 79.3,329.4 80.4,328.9 81.5,328.4 82.6,327.8 83.7,328.5 84.9,327.8 86.0,327.7 87.1,327.1 88.2,326.7 89.3,327.0 90.5,326.6 91.6,326.7 92.7,326.0 93.8,325.0 94.9,325.7 96.0,325.1 97.2,324.7 98.3,323.1 99.4,323.9 100.5,324.1 101.6,323.4 102.8,323.6 103.9,323.5 105.0,322.9 106.1,322.2 107.2,322.6 108.4,322.2 109.5,321.7 110.6,320.7 111.7,320.7 112.8,321.3 113.9,320.5 115.1,319.5 116.2,320.0 117.3,319.8 118.4,319.8 119.5,319.4 120.7,319.1 121.8,318.3 122.9,317.6 124.0,317.8 125.1,318.5 126.2,316.9 127.4,317.8 128.5,316.5 129.6,316.3 130.7,316.7 131.8,316.1 133.0,316.2 134.1,315.6 135.2,316.0 136.3,316.2 137.4,315.0 138.5,315.7 139.7,315.4 140.8,315.5 141.9,313.9 143.0,315.1 144.1,314.0 145.3,314.1 146.4,313.8 147.5,313.2 148.6,312.9 149.7,312.6 150.8,312.6 152.0,312.5 153.1,311.6 154.2,311.7 155.3,310.9 156.4,310.9 157.6,309.4 158.7,309.6 159.8,309.1 160.9,308.7 162.0,308.4 163.2,308.2 164.3,307.4 165.4,307.2 166.5,306.3 167.6,306.0 168.7,305.3 169.9,305.6 171.0,305.0 172.1,304.8 173.2,303.6 174.3,303.2 175.5,304.0 176.6,302.9 177.7,301.3 178.8,301.9 179.9,301.2 181.0,300.5 182.2,300.1 183.3,299.4 184.4,299.1 185.5,298.5 186.6,297.9 187.8,297.8 188.9,297.1 190.0,297.3 191.1,296.9 192.2,295.9 193.3,295.2 194.5,295.1 195.6,294.2 196.7,294.5 197.8,291.8 198.9,291.3 200.1,291.2 201.2,291.2 202.3,290.7 203.4,289.4 204.5,288.8 205.7,287.8 206.8,287.3 207.9,287.1 209.0,284.2 210.1,285.3 211.2,283.9 212.4,282.4 213.5,281.9 214.6,280.9 215.7,280.4 216.8,279.7 218.0,279.1 219.1,277.7 220.2,277.8 221.3,276.6 222.4,276.1 223.5,276.0 224.7,274.8 225.8,274.6 226.9,274.0 228.0,273.3 229.1,272.2 230.3,272.4 231.4,271.7 232.5,272.0 233.6,270.0 234.7,270.3 235.8,268.9 237.0,268.3 238.1,268.5 239.2,266.9 240.3,266.5 241.4,265.3 242.6,263.9 243.7,263.2 244.8,261.9 245.9,260.7 247.0,260.5 248.2,259.0 249.3,257.2 250.4,258.0 251.5,256.6 252.6,256.1 253.7,255.7 254.9,254.0 256.0,253.9 257.1,253.1 258.2,252.4 259.3,251.9 260.5,251.5 261.6,251.5 262.7,250.9 263.8,250.2 264.9,250.1 266.0,248.0 267.2,248.3 268.3,247.4 269.4,246.3 270.5,245.6 271.6,244.0 272.8,243.7 273.9,242.3 275.0,242.0 276.1,241.1 277.2,240.3 278.3,240.1 279.5,239.6 280.6,238.4 281.7,238.7 282.8,237.6 283.9,237.3 285.1,235.5 286.2,236.2 287.3,234.9 288.4,235.7 289.5,234.5 290.6,234.1 291.8,233.6 292.9,232.2 294.0,231.7 295.1,229.9 296.2,229.0 297.4,228.1 298.5,226.9 299.6,225.7 300.7,223.7 301.8,222.1 303.0,221.4 304.1,220.6 305.2,218.2 306.3,217.9 307.4,215.9 308.5,213.5 309.7,213.4 310.8,213.0 311.9,211.3 313.0,210.2 314.1,208.7 315.3,206.5 316.4,205.0 317.5,204.4 318.6,203.7 319.7,202.6 320.8,202.1 322.0,202.3 323.1,202.1 324.2,200.2 325.3,200.1 326.4,200.1 327.6,199.7 328.7,198.5 329.8,200.6 330.9,199.4 332.0,199.2 333.1,198.2 334.3,199.5 335.4,199.3 336.5,200.7 337.6,201.1 338.7,201.4 339.9,201.8 341.0,201.3 342.1,201.6 343.2,200.2 344.3,201.4 345.5,200.7 346.6,201.6 347.7,200.1 348.8,198.5 349.9,199.8 351.0,198.2 352.2,197.2 353.3,196.5 354.4,195.8 355.5,194.8 356.6,192.5 357.8,191.6 358.9,190.6 360.0,189.1 361.1,188.0 362.2,187.2 363.3,186.3 364.5,186.0 365.6,184.1 366.7,184.8 367.8,184.3 368.9,184.4 370.1,183.3 371.2,183.0 372.3,183.0 373.4,182.4 374.5,182.1 375.6,181.8 376.8,181.5 377.9,181.0 379.0,180.9 380.1,180.5 381.2,180.2 382.4,179.5 383.5,180.1 384.6,179.4 385.7,178.5 386.8,176.6 388.0,175.3 389.1,172.6 390.2,170.4 391.3,168.7 392.4,167.6 393.5,168.5 394.7,169.8 395.8,171.8 396.9,174.0 398.0,175.6 399.1,177.0 400.3,177.3 401.4,177.4 402.5,176.9 403.6,176.0 404.7,175.7 405.8,175.3 407.0,175.7 408.1,175.1 409.2,174.9 410.3,175.2 411.4,176.6 412.6,176.5 413.7,176.4 414.8,178.7 415.9,179.3 417.0,180.2 418.1,181.0 419.3,181.3 420.4,181.7 421.5,182.0 422.6,182.1 423.7,181.9 424.9,182.4 426.0,183.9 427.1,184.5 428.2,184.5 429.3,184.6 430.5,185.6 431.6,185.7 432.7,186.1 433.8,186.3 434.9,186.3 436.0,186.7 437.2,187.5 438.3,188.3 439.4,188.5 440.5,187.8 441.6,188.3 442.8,188.2 443.9,188.4 445.0,188.7 446.1,189.0 447.2,188.2 448.3,189.6 449.5,188.9 450.6,188.5 451.7,190.0 452.8,188.6 453.9,189.0 455.1,188.6 456.2,189.4 457.3,187.6 458.4,188.9 459.5,187.9 460.6,189.1 461.8,189.2 462.9,188.5 464.0,187.6 465.1,188.3 466.2,188.6 467.4,187.4 468.5,186.7 469.6,187.0 470.7,185.3 471.8,185.3 472.9,185.1 474.1,184.9 475.2,185.3 476.3,185.0 477.4,185.5 478.5,186.6 479.7,188.6 480.8,190.2 481.9,191.6 483.0,192.3 484.1,192.1 485.3,193.7 486.4,193.8 487.5,195.3 488.6,195.0 489.7,195.5 490.8,195.6 492.0,196.6 493.1,196.4 494.2,197.9 495.3,197.5 496.4,196.6 497.6,197.3 498.7,198.0 499.8,198.0 500.9,198.0 502.0,197.9 503.1,197.1 504.3,197.1 505.4,198.1 506.5,197.4 507.6,197.6 508.7,197.8 509.9,196.5 511.0,196.4 512.1,197.3 513.2,196.6 514.3,196.4" stroke="#7f7f7f" stroke-width="3.2"/>
<polygon points="232.13,275.02 234.73,272.42 237.33,275.02 239.93,272.42 237.33,269.82 239.93,267.22 237.33,264.62 234.73,267.22 232.13,264.62 229.53,267.22 232.13,269.82 229.53,272.42" fill="#7f7f7f" stroke="#000" stroke-width="1.5" stroke-linejoin="miter"/>
</g>
<rect x="67.3" y="1.8" width="447.0" height="348.7" fill="none" stroke="#000" stroke-width="2"/>
<path d="M67.3,333.60h4.6M67.3,292.87h4.6M67.3,252.14h4.6M67.3,211.41h4.6M67.3,170.68h4.6M67.3,129.95h4.6M67.3,89.22h4.6M67.3,48.49h4.6M67.3,7.76h4.6M66.97,350.5v-4.6M178.81,350.5v-4.6M290.65,350.5v-4.6M402.49,350.5v-4.6M514.33,350.5v-4.6" stroke="#000" stroke-width="1.4" fill="none"/>
<text x="64.6" y="341.10" font-size="19.3" text-anchor="end" fill="#000">0.00</text>
<text x="64.6" y="300.37" font-size="19.3" text-anchor="end" fill="#000">0.05</text>
<text x="64.6" y="259.64" font-size="19.3" text-anchor="end" fill="#000">0.10</text>
<text x="64.6" y="218.91" font-size="19.3" text-anchor="end" fill="#000">0.15</text>
<text x="64.6" y="178.18" font-size="19.3" text-anchor="end" fill="#000">0.20</text>
<text x="64.6" y="137.45" font-size="19.3" text-anchor="end" fill="#000">0.25</text>
<text x="64.6" y="96.72" font-size="19.3" text-anchor="end" fill="#000">0.30</text>
<text x="64.6" y="55.99" font-size="19.3" text-anchor="end" fill="#000">0.35</text>
<text x="64.6" y="15.26" font-size="19.3" text-anchor="end" fill="#000">0.40</text>
<text x="66.97" y="369.8" font-size="19.3" text-anchor="middle" fill="#000">0</text>
<text x="178.81" y="369.8" font-size="19.3" text-anchor="middle" fill="#000">2</text>
<text x="290.65" y="369.8" font-size="19.3" text-anchor="middle" fill="#000">4</text>
<text x="402.49" y="369.8" font-size="19.3" text-anchor="middle" fill="#000">6</text>
<text x="514.33" y="369.8" font-size="19.3" text-anchor="middle" fill="#000">8</text>
<text x="278.5" y="393.2" font-size="22" font-style="italic" fill="#000">ε<tspan font-size="15.4" dy="3.8">H</tspan></text>
<text transform="translate(13.2,189) rotate(-90)" font-size="22" fill="#000"><tspan font-style="italic">σ</tspan><tspan font-size="14.8" dx="0.9" dy="3.0">E</tspan></text>
<path d="M317.1,244.7H348.3" stroke="#1f77b4" stroke-width="2.4" fill="none"/>
<circle cx="332.80" cy="244.70" r="5.20" fill="#1f77b4" stroke="#000" stroke-width="1.5"/>
<text x="358.6" y="249.75" font-size="14.8" fill="#000">5%</text>
<path d="M317.1,266.0H348.3" stroke="#ff7f0e" stroke-width="2.4" fill="none"/>
<polygon points="327.60,271.20 338.00,271.20 338.00,260.80 327.60,260.80" fill="#ff7f0e" stroke="#000" stroke-width="1.5" stroke-linejoin="miter"/>
<text x="358.6" y="271.05" font-size="14.8" fill="#000">10%</text>
<path d="M317.1,287.2H348.3" stroke="#2ca02c" stroke-width="2.4" fill="none"/>
<polygon points="332.80,282.00 327.60,292.40 338.00,292.40" fill="#2ca02c" stroke="#000" stroke-width="1.5" stroke-linejoin="miter"/>
<text x="358.6" y="292.25" font-size="14.8" fill="#000">20%</text>
<path d="M317.1,308.45H348.3" stroke="#d62728" stroke-width="2.4" fill="none"/>
<polygon points="332.80,315.80 337.21,308.45 332.80,301.10 328.39,308.45" fill="#d62728" stroke="#000" stroke-width="1.5" stroke-linejoin="miter"/>
<text x="358.6" y="313.50" font-size="14.8" fill="#000">30%</text>
<path d="M317.1,329.7H348.3" stroke="#9467bd" stroke-width="2.4" fill="none"/>
<polygon points="332.80,324.50 327.85,328.09 329.74,333.91 335.86,333.91 337.75,328.09" fill="#9467bd" stroke="#000" stroke-width="1.5" stroke-linejoin="miter"/>
<text x="358.6" y="334.75" font-size="14.8" fill="#000">50%</text>
<path d="M418.6,244.7H449.7" stroke="#8c564b" stroke-width="2.4" fill="none"/>
<polygon points="432.26,249.90 435.74,249.90 435.74,246.44 439.20,246.44 439.20,242.96 435.74,242.96 435.74,239.50 432.26,239.50 432.26,242.96 428.80,242.96 428.80,246.44 432.26,246.44" fill="#8c564b" stroke="#000" stroke-width="1.5" stroke-linejoin="miter"/>
<text x="460.2" y="249.75" font-size="14.8" fill="#000">75%</text>
<path d="M418.6,266.0H449.7" stroke="#e377c2" stroke-width="2.4" fill="none"/>
<polygon points="434.00,271.20 439.20,260.80 428.80,260.80" fill="#e377c2" stroke="#000" stroke-width="1.5" stroke-linejoin="miter"/>
<text x="460.2" y="271.05" font-size="14.8" fill="#000">88%</text>
<path d="M418.6,287.2H449.7" stroke="#7f7f7f" stroke-width="2.4" fill="none"/>
<polygon points="431.40,292.40 434.00,289.80 436.60,292.40 439.20,289.80 436.60,287.20 439.20,284.60 436.60,282.00 434.00,284.60 431.40,282.00 428.80,284.60 431.40,287.20 428.80,289.80" fill="#7f7f7f" stroke="#000" stroke-width="1.5" stroke-linejoin="miter"/>
<text x="460.2" y="292.25" font-size="14.8" fill="#000">95%</text>
<path d="M418.6,308.45H449.7" stroke="#000000" stroke-width="2.4" fill="none"/>
<polygon points="431.40,303.95 428.80,308.45 431.40,312.95 436.60,312.95 439.20,308.45 436.60,303.95" fill="#fff" stroke="#000" stroke-width="1.5" stroke-linejoin="miter"/>
<text x="460.2" y="313.50" font-size="14.8" fill="#000">100%</text>
<path d="M418.6,329.7H449.7" stroke="#000000" stroke-width="2.4" fill="none"/>
<polygon points="439.20,329.70 428.80,324.50 428.80,334.90" fill="#fff" stroke="#000" stroke-width="1.5" stroke-linejoin="miter"/>
<text x="460.2" y="334.75" font-size="14.8" fill="#000">0%</text>
</svg></body></html>
